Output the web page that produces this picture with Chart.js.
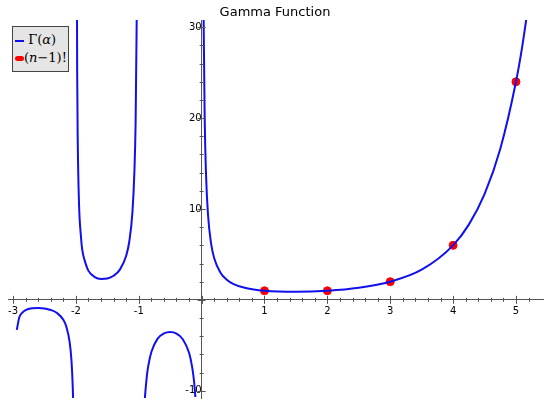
<!DOCTYPE html>
<html><head><meta charset="utf-8">
<script src="https://cdn.jsdelivr.net/npm/chart.js@4/dist/chart.umd.min.js"></script>
<style>
body{margin:0;background:#fff;}
#wrap{position:relative;width:550px;height:408px;}
#title{position:absolute;top:4px;left:0;width:550px;text-align:center;font:13px "DejaVu Sans";color:#000;}
#leg{position:absolute;left:12px;top:26px;width:55px;height:44px;background:#e5e5e5;border:1px solid #444;font:13px "DejaVu Serif";}
#leg div{position:absolute;left:2px;white-space:nowrap;}
</style></head><body>
<div id="wrap"><canvas id="c" width="550" height="408"></canvas>
<div id="title">Gamma Function</div>
<div id="leg">
<div style="top:5px"><span style="display:inline-block;width:9px;height:2px;background:#1010ee;vertical-align:middle"></span> Γ(<i>α</i>)</div>
<div style="top:23px"><span style="display:inline-block;width:9px;height:5px;background:#f00;border-radius:3px;vertical-align:middle"></span>(<i>n</i>−1)!</div>
</div></div>
<script>
const branch1X=[-2.94,-2.9,-2.85,-2.8,-2.7,-2.6,-2.5,-2.4,-2.3,-2.2,-2.15,-2.1,-2.07,-2.05,-2.04];
const branch1Y=[-3.3,-1.92,-1.4,-1.14,-0.93,-0.89,-0.945,-1.11,-1.45,-2.2,-3.0,-4.63,-6.7,-9.58,-12.07];
const branch2X=[-1.99,-1.98,-1.97,-1.95,-1.92,-1.9,-1.85,-1.8,-1.7,-1.6,-1.5,-1.4,-1.3,-1.2,-1.15,-1.1,-1.07,-1.05,-1.03];
const branch2Y=[50.5,25.5,17.2,10.5,7.0,5.56,4.1,3.19,2.51,2.31,2.36,2.66,3.33,4.85,6.45,9.71,14.0,19.6,32.9];
const branch3X=[-0.91,-0.9,-0.87,-0.85,-0.8,-0.7,-0.6,-0.5,-0.4,-0.3,-0.2,-0.15,-0.12,-0.1];
const branch3Y=[-11.7,-10.57,-8.3,-7.32,-5.74,-4.27,-3.70,-3.545,-3.72,-4.33,-5.82,-7.42,-9.0,-10.69];
const branch4X=[0.02,0.033,0.05,0.07,0.1,0.15,0.2,0.3,0.4,0.5,0.7,1,1.5,2,2.5,3,3.5,4,4.25,4.5,4.75,5,5.1,5.2];
const branch4Y=[49.4,30,19.5,13.8,9.51,6.22,4.59,2.99,2.22,1.77,1.30,1,0.886,1,1.33,2,3.32,6,8.28,11.63,16.6,24,27.9,32.6];
const factX=[1,2,3,4,5];
const factY=[1,1,2,6,24];
const xTicks=[-3,-2,-1,1,2,3,4,5];
const yTicks=[-10,10,20,30];
const pts=(xs,ys)=>xs.map((x,i)=>({x:x,y:ys[i]}));
const line=(xs,ys)=>({type:'line',data:pts(xs,ys),borderColor:'#1010ee',borderWidth:2,pointRadius:0,tension:0.4,cubicInterpolationMode:'monotone',order:1});
const minor={id:'minor',afterDraw(ch){
  const c=ch.ctx,xs=ch.scales.x,ys=ch.scales.y,x0=xs.getPixelForValue(0),y0=ys.getPixelForValue(0);
  c.save();c.strokeStyle='#555';c.lineWidth=1;c.beginPath();
  for(let v=-3;v<=5.4;v+=0.2){const p=Math.round(xs.getPixelForValue(v))+0.5;const maj=Math.abs(v-Math.round(v))<1e-6;const l=maj?4:2;c.moveTo(p,y0-l);c.lineTo(p,y0+l);}
  for(let v=-10;v<=30;v+=2){const p=Math.round(ys.getPixelForValue(v))+0.5;const maj=Math.abs(v/10-Math.round(v/10))<1e-6;const l=maj?4:2;c.moveTo(x0-l,p);c.lineTo(x0+l,p);}
  c.stroke();c.restore();}};
new Chart(document.getElementById('c'),{
 data:{datasets:[line(branch1X,branch1Y),line(branch2X,branch2Y),line(branch3X,branch3Y),line(branch4X,branch4Y),
  {type:'scatter',data:pts(factX,factY),backgroundColor:'#ff0000',borderColor:'#ff0000',pointRadius:4,order:2}]},
 options:{responsive:false,animation:false,layout:{padding:{left:8,right:7,top:20,bottom:8}},
  plugins:{legend:{display:false},tooltip:{enabled:false}},
  scales:{
   x:{type:'linear',min:-3.08,max:5.43,position:{y:0},
      afterBuildTicks:s=>{s.ticks=xTicks.map(v=>({value:v}));},
      grid:{drawOnChartArea:false,drawTicks:false},border:{color:'#555'},
      ticks:{padding:6,color:'#000',font:{family:'DejaVu Sans',size:10}}},
   y:{type:'linear',min:-10.8,max:30.8,position:{x:0},
      afterBuildTicks:s=>{s.ticks=yTicks.map(v=>({value:v}));},
      grid:{drawOnChartArea:false,drawTicks:false},border:{color:'#555'},
      ticks:{padding:4,color:'#000',font:{family:'DejaVu Sans',size:10}}}
  }},plugins:[minor]});
</script></body></html>
